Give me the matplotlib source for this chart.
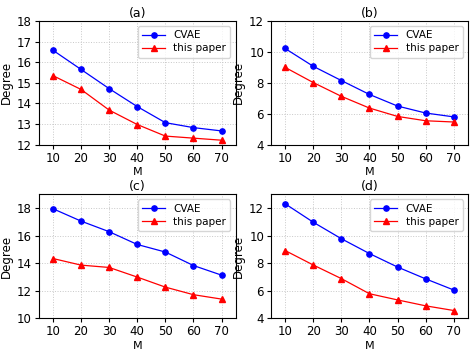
import matplotlib
matplotlib.use('Agg')
import matplotlib.pyplot as plt

M = [10, 20, 30, 40, 50, 60, 70]

cvae_a = [16.58, 15.65, 14.72, 13.85, 13.07, 12.83, 12.67]
paper_a = [15.35, 14.68, 13.68, 12.98, 12.42, 12.32, 12.22]

cvae_b = [10.22, 9.07, 8.15, 7.25, 6.50, 6.05, 5.80]
paper_b = [9.00, 8.02, 7.13, 6.37, 5.83, 5.55, 5.47]

cvae_c = [17.95, 17.05, 16.28, 15.35, 14.80, 13.82, 13.12]
paper_c = [14.33, 13.85, 13.68, 12.98, 12.25, 11.70, 11.38]

cvae_d = [12.31, 10.97, 9.77, 8.69, 7.71, 6.85, 6.04]
paper_d = [8.91, 7.86, 6.87, 5.77, 5.32, 4.89, 4.55]

titles = ['(a)', '(b)', '(c)', '(d)']
ylims = [(12, 18), (4, 12), (10, 19), (4, 13)]
yticks = [[12, 13, 14, 15, 16, 17, 18], [4, 6, 8, 10, 12], [10, 12, 14, 16, 18], [4, 6, 8, 10, 12]]
series = [(cvae_a, paper_a), (cvae_b, paper_b), (cvae_c, paper_c), (cvae_d, paper_d)]

fig, axes = plt.subplots(2, 2, figsize=(4.74, 3.55), dpi=100)
fig.subplots_adjust(left=0.082, right=0.987, top=0.941, bottom=0.104, hspace=0.40, wspace=0.18)

for ax, title, ylim, yt, (cv, pp) in zip(axes.flat, titles, ylims, yticks, series):
    ax.plot(M, cv, color='blue', marker='o', markersize=3.8, linewidth=0.9, label='CVAE')
    ax.plot(M, pp, color='red', marker='^', markersize=3.8, linewidth=0.9, label='this paper')
    ax.set_ylim(*ylim)
    ax.set_yticks(yt)
    ax.set_xticks(M)
    ax.set_xlim(5, 75)
    ax.grid(True, linestyle=':', color='#c8c8c8', linewidth=0.7)
    ax.set_title(title, fontsize=9, pad=3)
    ax.set_xlabel('M', fontsize=8, labelpad=2)
    ax.set_ylabel('Degree', fontsize=8.5, labelpad=3)
    ax.tick_params(labelsize=8.5, length=3, pad=2)
    ax.legend(loc='upper right', fontsize=7.5, handlelength=2.2, borderpad=0.4, labelspacing=0.3)

fig.savefig('out.png', dpi=100)
